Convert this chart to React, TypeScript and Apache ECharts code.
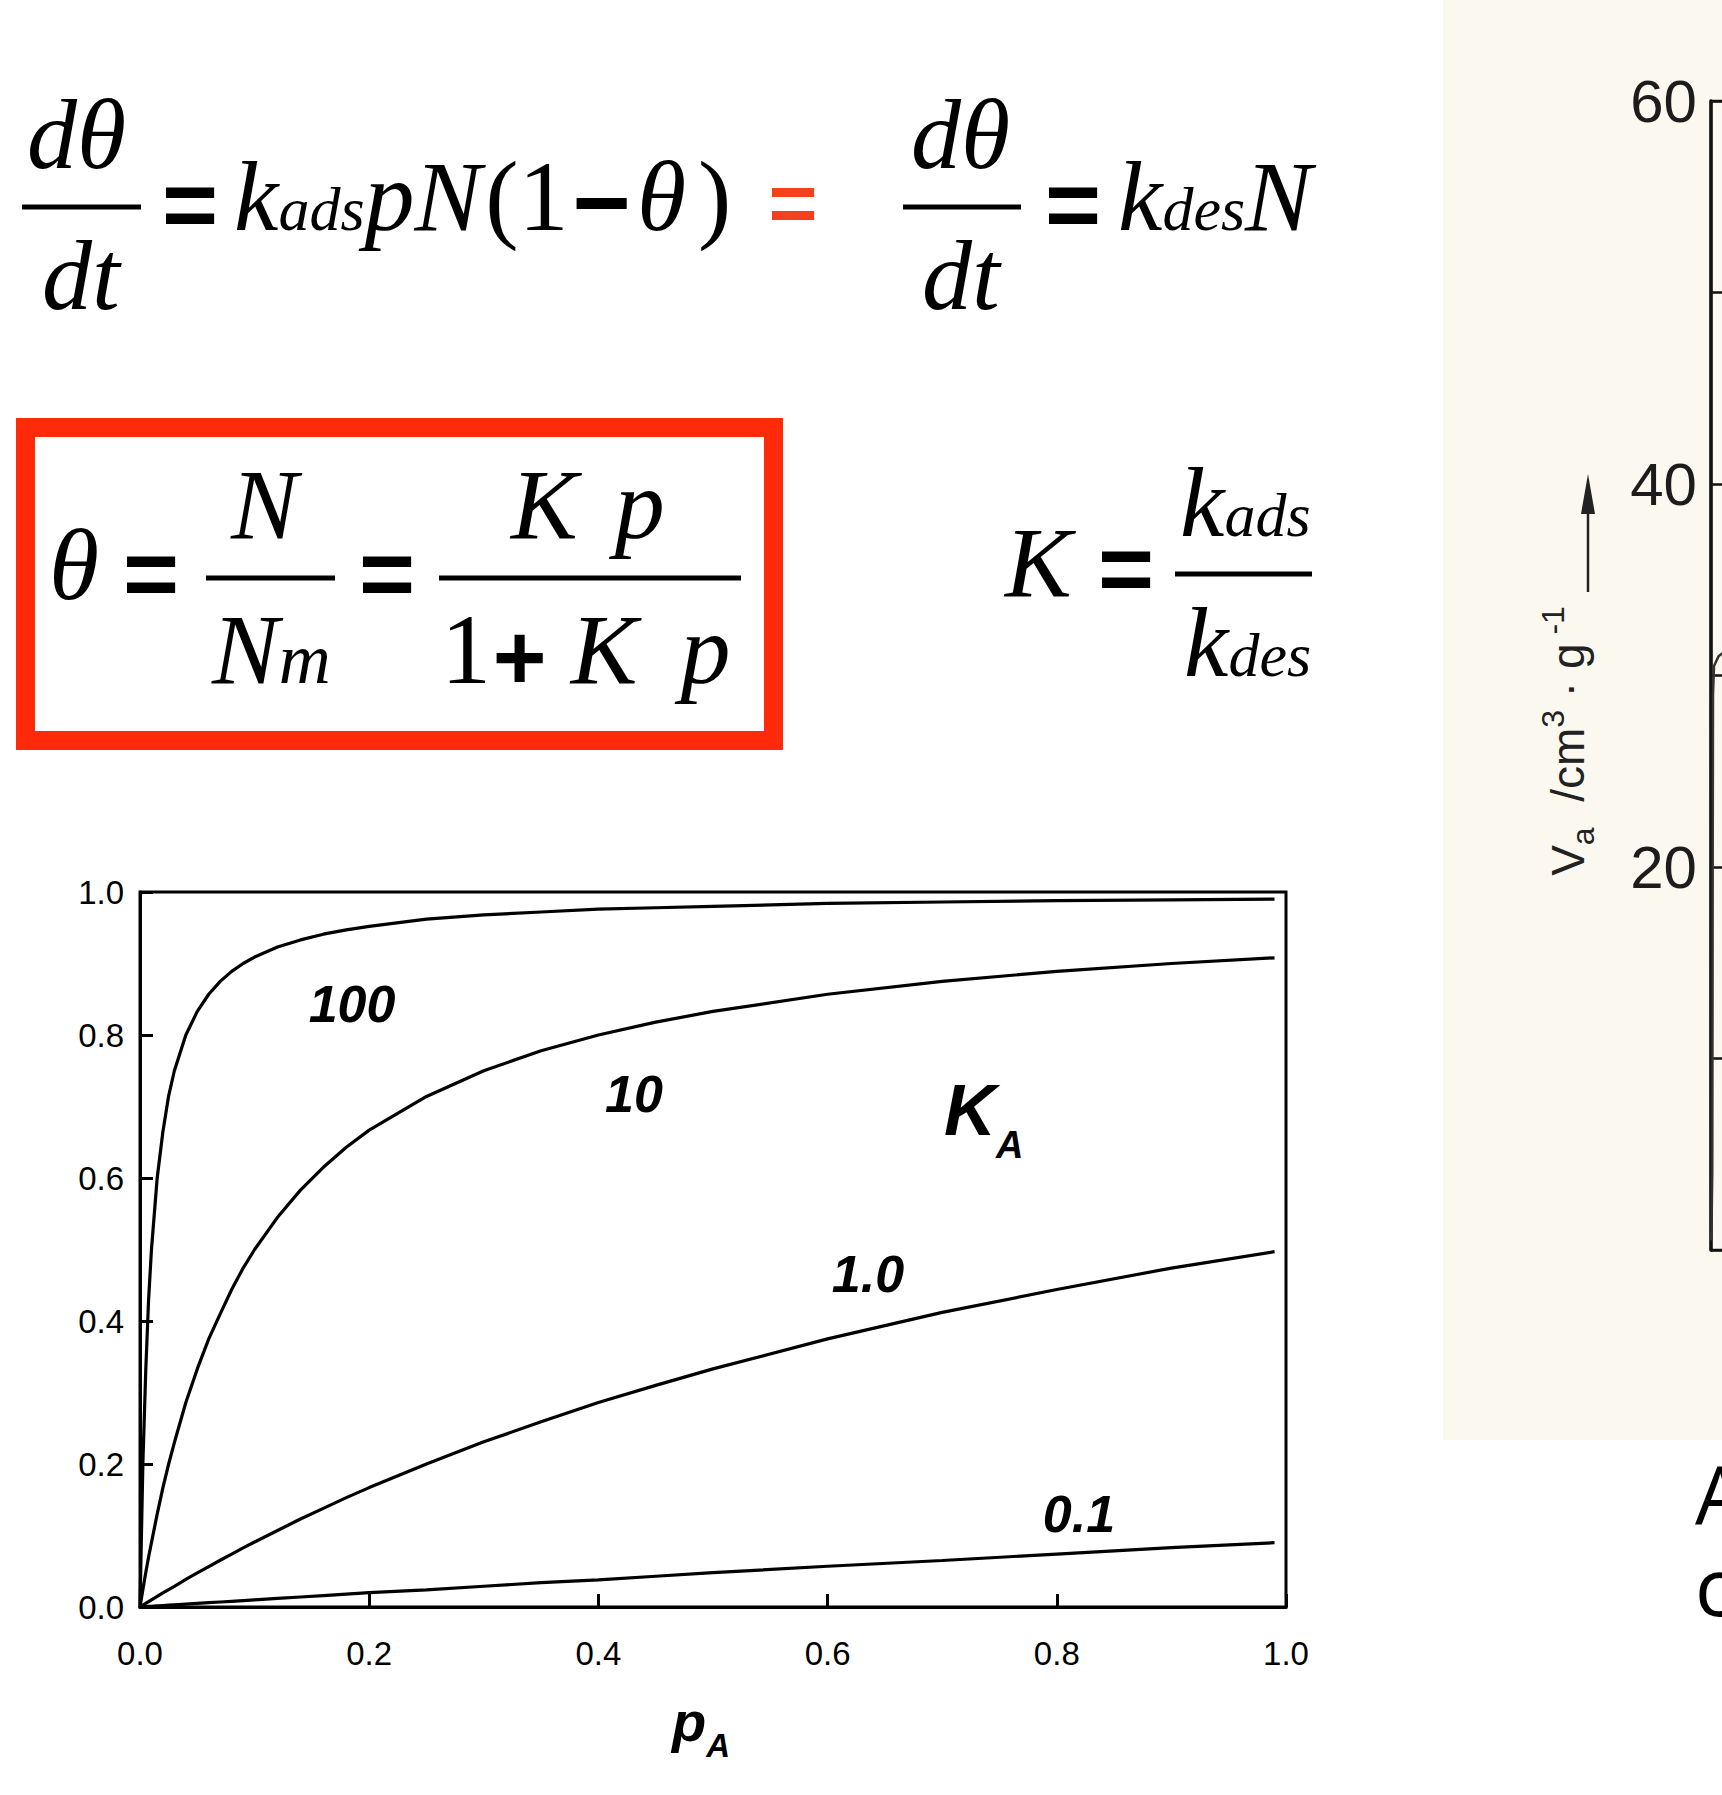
import React, { useEffect, useRef } from "react";
import * as echarts from "echarts";

// ---- Langmuir isotherm chart data ----
const pressure = [0, 0.0025, 0.005, 0.0075, 0.01, 0.015, 0.02, 0.025, 0.03, 0.04, 0.05, 0.06, 0.07, 0.08, 0.09, 0.1, 0.12, 0.14, 0.16, 0.18, 0.2, 0.25, 0.3, 0.35, 0.4, 0.45, 0.5, 0.6, 0.7, 0.8, 0.9, 0.99];
const theta100 = [0, 0.2, 0.33, 0.43, 0.5, 0.6, 0.665, 0.715, 0.75, 0.8, 0.833, 0.857, 0.875, 0.889, 0.9, 0.909, 0.923, 0.933, 0.941, 0.947, 0.952, 0.962, 0.968, 0.972, 0.976, 0.978, 0.98, 0.984, 0.986, 0.988, 0.989, 0.99];
const theta10 = [0, 0.024, 0.048, 0.07, 0.09, 0.13, 0.167, 0.2, 0.23, 0.286, 0.333, 0.375, 0.41, 0.444, 0.474, 0.5, 0.545, 0.583, 0.615, 0.643, 0.667, 0.714, 0.75, 0.778, 0.8, 0.818, 0.833, 0.857, 0.875, 0.889, 0.9, 0.908];
const theta1 = [0, 0.0025, 0.005, 0.0074, 0.0099, 0.0148, 0.0196, 0.0244, 0.029, 0.0385, 0.0476, 0.0566, 0.0654, 0.074, 0.0826, 0.0909, 0.107, 0.123, 0.138, 0.153, 0.167, 0.2, 0.231, 0.259, 0.286, 0.31, 0.333, 0.375, 0.412, 0.444, 0.474, 0.497];
const theta01 = [0, 0.0003, 0.0005, 0.0008, 0.001, 0.0015, 0.002, 0.0025, 0.003, 0.004, 0.005, 0.006, 0.007, 0.008, 0.009, 0.01, 0.012, 0.014, 0.016, 0.018, 0.02, 0.024, 0.029, 0.034, 0.038, 0.043, 0.048, 0.057, 0.065, 0.074, 0.083, 0.09];
const curveLabels = ["100", "10", "1.0", "0.1"];

// ---- cropped right-hand chart ----
const rightP = [0, 0.002, 0.005, 0.006, 0.007, 0.008, 0.012, 0.03, 0.08];
const rightV = [0.5, 1, 4, 12, 22, 29, 30.5, 31, 31.5];

const SERIF = "'Liberation Serif', 'Times New Roman', serif";
const SANS = "'Liberation Sans', Arial, sans-serif";
const KSERIF = 0.3375;
const KSANS = 0.3465;
const SUB = 62;

type Tok = { t: string; fs: number; sans?: boolean; it?: boolean; bold?: boolean; color?: string; padL?: number; dB?: number };

// one text element, tokens laid out side by side on a common baseline
function expr(x: number, base: number, toks: Tok[]): any {
  const A = Math.max(...toks.map((k) => k.fs)) * 1.05;
  const rich: any = {};
  let text = "";
  toks.forEach((k, i) => {
    const kk = k.sans ? KSANS : KSERIF;
    const padTop = Math.max(0, A + (k.dB || 0) - k.fs * (0.5 + kk));
    rich["t" + i] = {
      fontSize: k.fs,
      fontFamily: k.sans ? SANS : SERIF,
      fontStyle: k.it === false ? "normal" : "italic",
      fontWeight: k.bold ? "bold" : "normal",
      fill: k.color || "#000",
      height: k.fs,
      padding: [padTop, 0, 0, k.padL || 0],
      verticalAlign: "top",
      align: "left",
    };
    text += "{t" + i + "|" + k.t + "}";
  });
  return {
    type: "text",
    x,
    y: base - A,
    style: { text, rich, align: "left", verticalAlign: "top", fill: "#000" },
  };
}

function serif(text: string, x: number, base: number, fs: number, italic = true): any {
  return expr(x, base, [{ t: text, fs, it: italic }]);
}

function sym(text: string, cx: number, cy: number, fs: number, color = "#000"): any {
  return {
    type: "text",
    x: cx,
    y: cy,
    style: { text, fontFamily: SANS, fontSize: fs, fontWeight: "bold", fill: color, align: "center", verticalAlign: "middle" },
  };
}

function bar(x1: number, x2: number, y: number): any {
  return { type: "line", shape: { x1, y1: y, x2, y2: y }, style: { stroke: "#000", lineWidth: 5 } };
}

function lbl(text: string, cx: number, cy: number, fs: number): any {
  return {
    type: "text",
    x: cx,
    y: cy,
    style: { text, fontFamily: SANS, fontSize: fs, fontWeight: "bold", fontStyle: "italic", fill: "#000", align: "center", verticalAlign: "middle" },
  };
}

const equations: any[] = [
  // row 1
  serif("dθ", 27, 168, 100),
  bar(22, 141, 207),
  serif("dt", 42, 309, 100),
  sym("=", 190, 204, 96),
  expr(234, 230, [
    { t: "k", fs: 100 },
    { t: "ads", fs: SUB },
    { t: "p", fs: 100 },
    { t: "N", fs: 100 },
    { t: "(", fs: 100, it: false, padL: 4 },
    { t: "1", fs: 100, it: false },
    { t: "−", fs: 100, sans: true, bold: true, padL: 2, dB: 7 },
    { t: "θ", fs: 100, padL: 8 },
    { t: ")", fs: 100, it: false, padL: 12 },
  ]),
  sym("=", 793, 203, 84, "#f4401c"),
  serif("dθ", 911, 168, 100),
  bar(903, 1021, 207),
  serif("dt", 922, 309, 100),
  sym("=", 1073, 204, 96),
  expr(1118, 230, [
    { t: "k", fs: 100 },
    { t: "des", fs: SUB },
    { t: "N", fs: 100 },
  ]),
  // row 2 (boxed)
  {
    type: "rect",
    shape: { x: 25.5, y: 427.5, width: 748, height: 313 },
    style: { fill: "none", stroke: "#fe2a0a", lineWidth: 19 },
  },
  serif("θ", 49, 599, 102),
  sym("=", 151, 573, 96),
  bar(206, 335, 578),
  serif("N", 231, 538, 100),
  expr(212, 683, [
    { t: "N", fs: 100 },
    { t: "m", fs: 72 },
  ]),
  sym("=", 387, 573, 96),
  bar(439, 741, 578),
  expr(511, 538, [
    { t: "K", fs: 100 },
    { t: "p", fs: 100, padL: 37 },
  ]),
  expr(441, 683, [
    { t: "1", fs: 100, it: false },
    { t: "+", fs: 92, sans: true, bold: true, dB: 6 },
    { t: "K", fs: 100, padL: 26 },
    { t: "p", fs: 100, padL: 43 },
  ]),
  serif("K", 1005, 596, 100),
  sym("=", 1126, 568, 96),
  bar(1175, 1312, 574),
  expr(1180, 536, [
    { t: "k", fs: 100 },
    { t: "ads", fs: SUB },
  ]),
  expr(1184, 676, [
    { t: "k", fs: 100 },
    { t: "des", fs: SUB },
  ]),
];

const chartTexts: any[] = [
  lbl(curveLabels[0], 352, 1004, 52),
  lbl(curveLabels[1], 634, 1094, 52),
  lbl(curveLabels[2], 868, 1274, 52),
  lbl(curveLabels[3], 1079, 1514, 52),
  expr(944, 1135, [
    { t: "K", fs: 72, sans: true, bold: true },
    { t: "A", fs: 38, sans: true, bold: true, dB: 23 },
  ]),
  expr(672, 1741, [
    { t: "p", fs: 56, sans: true, bold: true },
    { t: "A", fs: 33, sans: true, bold: true, dB: 16 },
  ]),
];

const rightPanel: any[] = [
  {
    type: "rect",
    z: -10,
    shape: { x: 1443, y: 0, width: 279, height: 1440 },
    style: { fill: "#fbf9ef" },
  },
  {
    type: "text",
    x: 1568,
    y: 741,
    rotation: Math.PI / 2,
    style: {
      text: "{n|V}{s|a}{n|  /cm}{u|3}{n| · g}{u| -1}",
      fontFamily: SANS,
      fontSize: 46,
      fill: "#222",
      align: "center",
      verticalAlign: "middle",
      rich: {
        n: { fontSize: 46, fontFamily: SANS, fill: "#222", lineHeight: 62, verticalAlign: "middle" },
        s: { fontSize: 32, fontFamily: SANS, fill: "#222", lineHeight: 32, verticalAlign: "bottom" },
        u: { fontSize: 32, fontFamily: SANS, fill: "#222", lineHeight: 32, verticalAlign: "top" },
      },
    },
  },
  { type: "line", shape: { x1: 1588, y1: 592, x2: 1588, y2: 505 }, style: { stroke: "#222", lineWidth: 2.5 } },
  { type: "polygon", shape: { points: [[1588, 474], [1581, 514], [1595, 514]] }, style: { fill: "#222" } },
  {
    type: "text",
    x: 1695,
    y: 1492,
    style: { text: "A", fontFamily: "'Open Sans', sans-serif", fontSize: 80, lineHeight: 80, fill: "#000", align: "left", verticalAlign: "middle" },
  },
  {
    type: "text",
    x: 1695,
    y: 1584,
    style: { text: "c", fontFamily: "'Open Sans', sans-serif", fontSize: 80, lineHeight: 80, fill: "#000", align: "left", verticalAlign: "middle" },
  },
];

const curveStyle = (data: number[]) => ({
  type: "line",
  xAxisIndex: 0,
  yAxisIndex: 0,
  data: pressure.map((p, i) => [p, data[i]]),
  symbol: "none",
  smooth: false,
  lineStyle: { color: "#000", width: 3.2 },
  z: 3,
});

const option: any = {
  animation: false,
  backgroundColor: "#ffffff",
  grid: [
    { left: 140, top: 892, width: 1146, height: 715, show: true, borderColor: "#000", borderWidth: 3, backgroundColor: "transparent" },
    { left: 1711, top: 101, width: 1000, height: 1149, show: true, borderColor: "#111", borderWidth: 2.5, backgroundColor: "transparent" },
  ],
  xAxis: [
    {
      gridIndex: 0,
      type: "value",
      min: 0,
      max: 1,
      interval: 0.2,
      axisLine: { show: true, lineStyle: { color: "#000", width: 3 } },
      axisTick: { show: true, inside: true, length: 13, lineStyle: { color: "#000", width: 3 } },
      axisLabel: { margin: 30, fontSize: 33, color: "#000", fontFamily: SANS, formatter: (v: number) => v.toFixed(1) },
      splitLine: { show: false },
    },
    { gridIndex: 1, type: "value", min: 0, max: 1, show: false },
  ],
  yAxis: [
    {
      gridIndex: 0,
      type: "value",
      min: 0,
      max: 1,
      interval: 0.2,
      axisLine: { show: true, lineStyle: { color: "#000", width: 3 } },
      axisTick: { show: true, inside: true, length: 13, lineStyle: { color: "#000", width: 3 } },
      axisLabel: { margin: 16, fontSize: 33, color: "#000", fontFamily: SANS, formatter: (v: number) => v.toFixed(1) },
      splitLine: { show: false },
    },
    {
      gridIndex: 1,
      type: "value",
      min: 0,
      max: 60,
      interval: 20,
      axisLine: { show: true, lineStyle: { color: "#111", width: 3.5 } },
      axisTick: { show: true, inside: true, length: 11, lineStyle: { color: "#111", width: 2.5 } },
      minorTick: { show: true, splitNumber: 2, length: 11, lineStyle: { color: "#111", width: 2.5 } },
      axisLabel: { margin: 14, fontSize: 60, color: "#1c1c1c", fontFamily: SANS, showMinLabel: false },
      splitLine: { show: false },
    },
  ],
  series: [
    curveStyle(theta100),
    curveStyle(theta10),
    curveStyle(theta1),
    curveStyle(theta01),
    {
      type: "line",
      xAxisIndex: 1,
      yAxisIndex: 1,
      data: rightP.map((p, i) => [p, rightV[i]]),
      symbol: "none",
      lineStyle: { color: "#333", width: 2.5 },
    },
  ],
  graphic: [...rightPanel, ...equations, ...chartTexts],
};

export default function App() {
  const ref = useRef<HTMLDivElement>(null);
  useEffect(() => {
    document.body.style.margin = "0";
    const chart = echarts.init(ref.current!, null, { renderer: "svg" });
    chart.setOption(option);
    return () => chart.dispose();
  }, []);
  return (
    <div
      ref={ref}
      style={{ width: 1722, height: 1795, position: "absolute", left: 0, top: 0, background: "#fff" }}
    />
  );
}
